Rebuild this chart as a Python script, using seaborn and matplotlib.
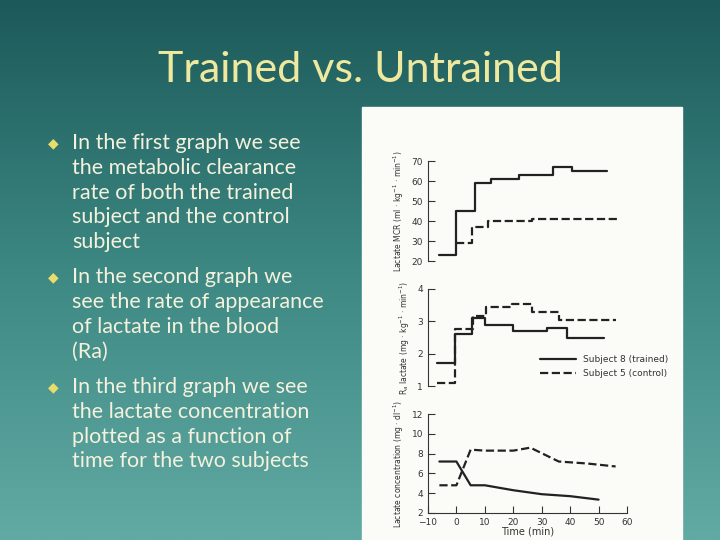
import numpy as np
import pandas as pd
import seaborn as sns
import matplotlib.pyplot as plt
from matplotlib.colors import LinearSegmentedColormap

# panel 1: lactate MCR (step data, value holds until next time)
mcr_t_trained = [-6, 0, 6.5, 12, 22, 34, 40.5, 53]
mcr_trained = [23, 45, 59, 61, 63, 67, 65, 65]
mcr_t_control = [0, 5.5, 11, 26.5, 57.5]
mcr_control = [29, 37, 40, 41, 41]

# panel 2: Ra lactate
ra_t_trained = [-7, -0.5, 5.5, 10, 20, 32, 39, 52]
ra_trained = [1.7, 2.6, 3.1, 2.9, 2.7, 2.8, 2.5, 2.5]
ra_t_control = [-7, -0.5, 6, 10.5, 19.5, 26.5, 36, 56]
ra_control = [1.1, 2.75, 3.15, 3.45, 3.55, 3.3, 3.05, 3.05]

# panel 3: lactate concentration
conc_t_trained = [-6, 0, 5, 10, 20, 30, 40, 50]
conc_trained = [7.2, 7.2, 4.8, 4.8, 4.3, 3.9, 3.7, 3.35]
conc_t_control = [-6, 0, 5, 10, 20, 26, 36, 46, 56]
conc_control = [4.8, 4.8, 8.4, 8.3, 8.3, 8.6, 7.2, 7.0, 6.7]

lines1 = ["In the first graph we see", "the metabolic clearance", "rate of both the trained",
          "subject and the control", "subject"]
lines2 = ["In the second graph we", "see the rate of appearance", "of lactate in the blood", "(Ra)"]
lines3 = ["In the third graph we see", "the lactate concentration", "plotted as a function of",
          "time for the two subjects"]

sns.set_style("white")
plt.rcParams['font.family'] = ['Lato', 'DejaVu Sans']

fig = plt.figure(figsize=(7.2, 5.4), dpi=100)

# slide background gradient
bg = fig.add_axes([0, 0, 1, 1])
grad = np.linspace(0, 1, 256).reshape(-1, 1)
cmap = LinearSegmentedColormap.from_list("slide", ["#1c5a5a", "#3d8883", "#62aaa4"])
bg.imshow(grad, aspect="auto", cmap=cmap, extent=[0, 1, 0, 1], origin="upper")
bg.add_patch(plt.Rectangle((362 / 720, 0), 320 / 720, 433 / 540, color="#fbfbf8", zorder=2))
bg.set_xlim(0, 1)
bg.set_ylim(0, 1)
bg.axis("off")

fig.text(0.5, 1 - 70 / 540, "Trained vs. Untrained", ha="center", va="center",
         fontsize=31, color="#efe9a0")

tx = 72 / 720
for block, y0 in [(lines1, 143), (lines2, 277), (lines3, 387)]:
    fig.text(53 / 720, 1 - y0 / 540, "\u25c6", color="#e8dc6a", fontsize=10,
             ha="center", va="center", family=['DejaVu Sans'])
    for i, s in enumerate(block):
        fig.text(tx, 1 - (y0 + i * 24.8) / 540, s, color="#f4f1dc", fontsize=15.5, va="center")

left = 428 / 720
width = 199 / 720


def panel(rect, series, ylim, yticks, ylabel, steps, bottom_axis=False):
    ax = fig.add_axes(rect)
    ax.patch.set_alpha(0)
    for t, v, ls in series:
        df = pd.DataFrame({"t": t, "v": v})
        sns.lineplot(data=df, x="t", y="v", ax=ax, color="#222222", lw=1.6, linestyle=ls,
                     drawstyle="steps-post" if steps else "default")
    ax.set_xlim(-10, 60)
    ax.set_ylim(*ylim)
    ax.set_yticks(yticks)
    ax.tick_params(axis="y", direction="in", length=5, labelsize=6.5, colors="#333333", left=True)
    for sp in ["top", "right"]:
        ax.spines[sp].set_visible(False)
    ax.spines["left"].set_color("#333333")
    ax.spines["left"].set_linewidth(0.8)
    ax.set_ylabel(ylabel, fontsize=5.5, color="#333333", family=['DejaVu Sans'])
    if bottom_axis:
        ax.set_xticks(range(-10, 61, 10))
        ax.tick_params(axis="x", direction="in", length=5, labelsize=6.5, colors="#333333", bottom=True)
        ax.spines["bottom"].set_color("#333333")
        ax.spines["bottom"].set_linewidth(0.8)
        ax.set_xlabel("Time (min)", fontsize=7, color="#333333", labelpad=0, family=['DejaVu Sans'])
    else:
        ax.spines["bottom"].set_visible(False)
        ax.set_xticks([])
        ax.set_xlabel("")
    for lab in ax.get_yticklabels() + ax.get_xticklabels():
        lab.set_family(['DejaVu Sans'])
    return ax


panel([left, 1 - 261 / 540, width, 100 / 540],
      [(mcr_t_trained, mcr_trained, "-"), (mcr_t_control, mcr_control, "--")],
      (20, 70), range(20, 71, 10), "Lactate MCR (ml \u00b7 kg$^{-1}$ \u00b7 min$^{-1}$)", True)

ax2 = panel([left, 1 - 386 / 540, width, 97 / 540],
            [(ra_t_trained, ra_trained, "-"), (ra_t_control, ra_control, "--")],
            (1, 4), range(1, 5), "R$_a$ lactate (mg \u00b7 kg$^{-1}$ \u00b7 min$^{-1}$)", True)
h = ax2.get_lines()
ax2.legend(h[:2], ["Subject 8 (trained)", "Subject 5 (control)"], loc="lower right",
           bbox_to_anchor=(1.25, 0.0), frameon=False, handlelength=4,
           prop={'family': ['DejaVu Sans'], 'size': 6.5}, labelcolor="#333333")

panel([left, 1 - 513 / 540, width, 99 / 540],
      [(conc_t_trained, conc_trained, "-"), (conc_t_control, conc_control, "--")],
      (2, 12), range(2, 13, 2), "Lactate concentration (mg \u00b7 dl$^{-1}$)", False, bottom_axis=True)

fig.savefig("out.png", dpi=100)
